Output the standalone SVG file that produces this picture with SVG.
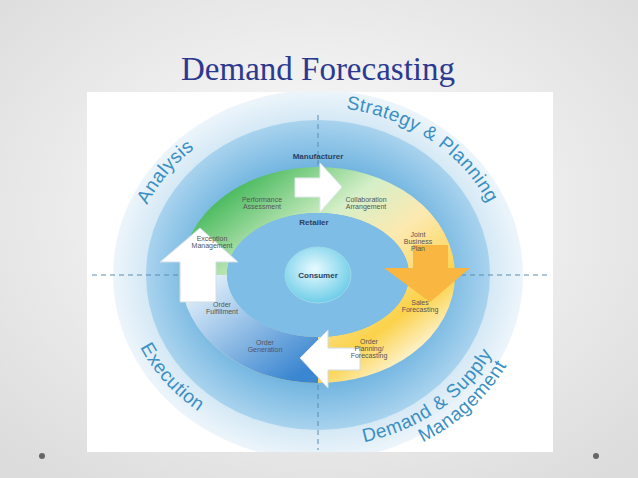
<svg xmlns="http://www.w3.org/2000/svg" width="638" height="478" viewBox="0 0 638 478">
<defs>
<radialGradient id="bg" cx="50%" cy="45%" r="70%"><stop offset="0" stop-color="#ffffff"/><stop offset="1" stop-color="#dcdcdc"/></radialGradient>
<radialGradient id="outer" cx="50%" cy="50%" r="50%"><stop offset="0.8" stop-color="#cfe6f4"/><stop offset="1" stop-color="#edf5fb"/></radialGradient>
<radialGradient id="mid" cx="50%" cy="50%" r="50%"><stop offset="0.7" stop-color="#72b5e0"/><stop offset="1" stop-color="#a9d3ee"/></radialGradient>
<radialGradient id="cons" cx="45%" cy="40%" r="60%"><stop offset="0" stop-color="#e8fbff"/><stop offset="1" stop-color="#6fcde8"/></radialGradient>
<linearGradient id="ringG" x1="0" y1="0" x2="1" y2="1"><stop offset="0" stop-color="#2fb04a"/><stop offset="0.35" stop-color="#d5efc8"/><stop offset="0.55" stop-color="#fde9b0"/><stop offset="0.8" stop-color="#fbd24a"/><stop offset="1" stop-color="#ffffff"/></linearGradient>
<linearGradient id="ringL" x1="0" y1="0" x2="1" y2="1"><stop offset="0" stop-color="#e7f3fb"/><stop offset="1" stop-color="#3a86d0"/></linearGradient>
<clipPath id="cl"><rect x="87" y="92" width="466" height="360"/></clipPath>
<path id="arcTop" d="M130,275 A188,168 0 0 1 506,275"/>
<path id="arcBot" d="M122,275 A196,172 0 0 0 514,275"/>
<path id="arcBot2" d="M104,275 A214,192 0 0 0 532,275"/>
<style>.t{font-family:"Liberation Sans",Arial,sans-serif;font-size:7px;fill:#555;text-anchor:middle}.b{font-family:"Liberation Sans",Arial,sans-serif;font-size:8px;font-weight:bold;fill:#2b4060;text-anchor:middle}.q{font-family:"Liberation Sans",Arial,sans-serif;font-size:19px;fill:#3a8fc4;letter-spacing:0.5px}</style>
</defs>
<rect width="638" height="478" fill="url(#bg)"/>
<text x="318" y="80" font-family="Liberation Serif,serif" font-size="33" fill="#2b3990" text-anchor="middle">Demand Forecasting</text>
<rect x="87" y="92" width="466" height="360" fill="#ffffff"/>
<g id="discs" clip-path="url(#cl)">
<ellipse cx="318" cy="275" rx="205" ry="185" fill="url(#outer)"/>
<ellipse cx="318" cy="275" rx="172" ry="155" fill="url(#mid)"/>
<line x1="92" y1="275" x2="548" y2="275" stroke="#5a8cb0" stroke-dasharray="5,4"/>
<line x1="318" y1="115" x2="318" y2="450" stroke="#5a8cb0" stroke-dasharray="5,4"/>
</g>
<g id="ring">
<ellipse cx="318" cy="275" rx="114" ry="85" fill="none" stroke="url(#ringG)" stroke-width="46"/>
<path d="M204,275 A114,85 0 0 0 318,360" fill="none" stroke="url(#ringL)" stroke-width="46"/>
<ellipse cx="318" cy="275" rx="91" ry="62" fill="#7dbde6"/>
<polygon points="295,178 320,178 320,163 342,187 320,212 320,197 295,197" fill="#ffffff" stroke="#e0e8f0"/>
<polygon points="413,245 448,245 448,268 470,268 430,302 384,268 413,268" fill="#f9b640"/>
<polygon points="360,348 328,348 328,330 300,358 328,388 328,370 360,370" fill="#ffffff" stroke="#d0dde8"/>
<polygon points="180,302 216,302 216,262 238,262 200,228 160,262 180,262" fill="#ffffff" stroke="#d0dde8"/>
</g>
<g id="consumer"><ellipse cx="318" cy="275" rx="33" ry="28" fill="url(#cons)" stroke="#9fd8ea"/><text class="b" x="318" y="278">Consumer</text></g>
<text class="b" x="318" y="159">Manufacturer</text>
<text class="b" x="314" y="225">Retailer</text>
<g id="labels">
<text class="t" x="262" y="202">Performance</text><text class="t" x="262" y="209">Assessment</text>
<text class="t" x="366" y="202">Collaboration</text><text class="t" x="366" y="209">Arrangement</text>
<text class="t" x="418" y="237">Joint</text><text class="t" x="418" y="244">Business</text><text class="t" x="418" y="251">Plan</text>
<text class="t" x="420" y="305">Sales</text><text class="t" x="420" y="312">Forecasting</text>
<text class="t" x="369" y="344">Order</text><text class="t" x="369" y="351">Planning/</text><text class="t" x="369" y="358">Forecasting</text>
<text class="t" x="265" y="345">Order</text><text class="t" x="265" y="352">Generation</text>
<text class="t" x="222" y="307">Order</text><text class="t" x="222" y="314">Fulfillment</text>
<text class="t" x="212" y="241">Exception</text><text class="t" x="212" y="248">Management</text>
</g>
<g id="quadrants">
<text class="q"><textPath href="#arcTop" startOffset="13%">Analysis</textPath></text>
<text class="q"><textPath href="#arcTop" startOffset="55%">Strategy &amp; Planning</textPath></text>
<text class="q"><textPath href="#arcBot" startOffset="13%">Execution</textPath></text>
<text class="q"><textPath href="#arcBot" startOffset="58%">Demand &amp; Supply</textPath></text>
<text class="q"><textPath href="#arcBot2" startOffset="67%">Management</textPath></text>
</g>
<circle cx="42" cy="456" r="3" fill="#666"/><circle cx="596" cy="456" r="3" fill="#666"/>
</svg>
